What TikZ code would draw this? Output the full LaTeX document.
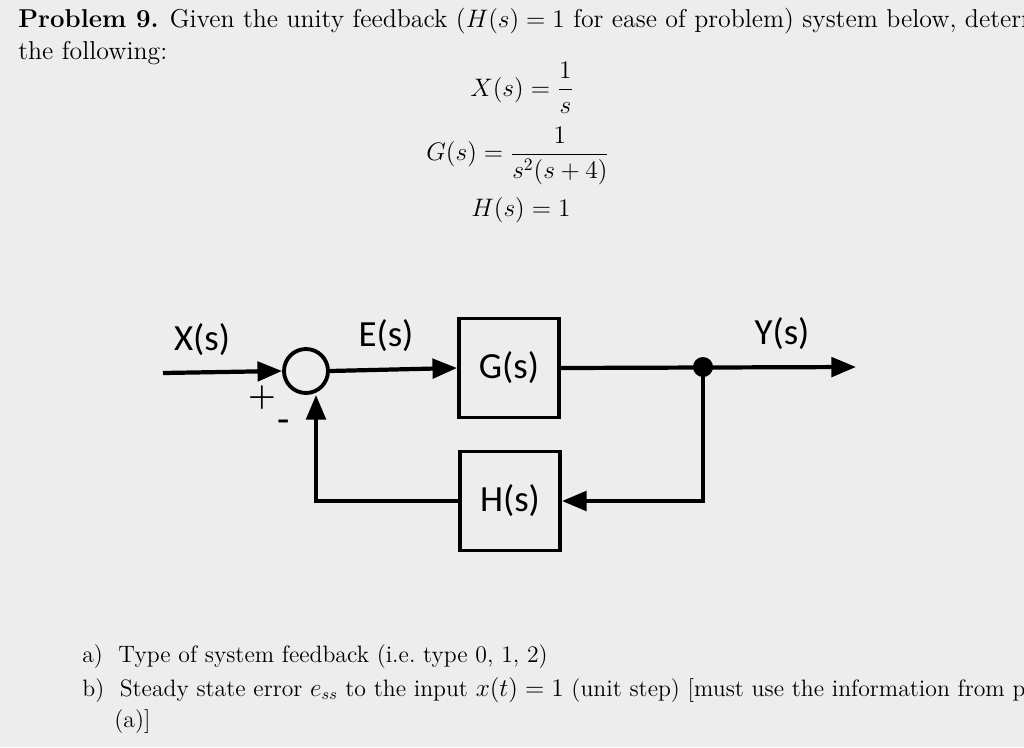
\documentclass[tikz,border=0pt]{standalone}
\usepackage{amsmath}
\usepackage{fontspec}
\newfontfamily\diag{Carlito}
\usetikzlibrary{arrows.meta}
\begin{document}
\begin{tikzpicture}[x=0.02cm,y=-0.02cm,
  blk/.style={draw, line width=2.2pt, minimum width=100*0.02cm, minimum height=99*0.02cm, font=\diag\fontsize{21}{24}\selectfont},
  lab/.style={font=\diag\fontsize{21}{24}\selectfont},
  sig/.style={line width=2.4pt, -{Triangle[length=14pt,width=11pt]}},
  txt/.style={anchor=base west, inner sep=0pt, font=\fontsize{14.7}{18}\selectfont},
  txtb/.style={anchor=base west, inner sep=0pt, font=\fontsize{13.5}{16}\selectfont}]
\fill[black!7] (0,0) rectangle (1024,747);
\useasboundingbox (0,0) rectangle (1024,747);
\node[txt] (t1) at (18,28) {\textbf{Problem 9.} Given the unity feedback ($H(s)=1$ for ease of problem) system below, determine};
\node[txt] (t2) at (18,59) {the following:};
\node[font=\fontsize{14.5}{18}\selectfont] (e1) at (522,88) {$X(s)=\dfrac{1}{s}$};
\node[font=\fontsize{14.5}{18}\selectfont] (e2) at (518,156) {$G(s)=\dfrac{1}{s^2(s+4)}$};
\node[font=\fontsize{14.5}{18}\selectfont] (e3) at (521,210) {$H(s)=1$};
\node[draw, circle, line width=2.2pt, minimum size=44*0.02cm, inner sep=0pt] (sum) at (306,371) {};
\node[blk] (G) at (509,368) {G(s)};
\node[blk] (H) at (510,501) {H(s)};
\coordinate (in) at (163,373);
\coordinate (out) at (856,367);
\coordinate (fb) at (316,503);
\fill (703,367) circle (10) coordinate (dot);
\draw[sig] (in) -- (sum.west);
\draw[sig] (sum.east) -- (G.west);
\draw[sig] (G.east) -- (out);
\draw[sig] (dot) |- (H.east);
\draw[sig] (H.west) -| (sum.south -| fb);
\node[lab] (lx) at (202,340) {X(s)};
\node[lab] (le) at (386,336) {E(s)};
\node[lab] (ly) at (782,334) {Y(s)};
\node[font=\fontsize{18}{20}\selectfont\bfseries] (pl) at (262,398) {+};
\node[font=\fontsize{18}{20}\selectfont\bfseries] (mi) at (284,424) {-};
\node[txtb] (a) at (82,662) {a)\ \ Type of system feedback (i.e.\ type 0, 1, 2)};
\node[txtb] (b) at (82,696) {b)\ \ Steady state error $e_{ss}$ to the input $x(t)=1$ (unit step) [must use the information from part};
\node[txtb] (b2) at (114,727) {(a)]};
\end{tikzpicture}
\end{document}
